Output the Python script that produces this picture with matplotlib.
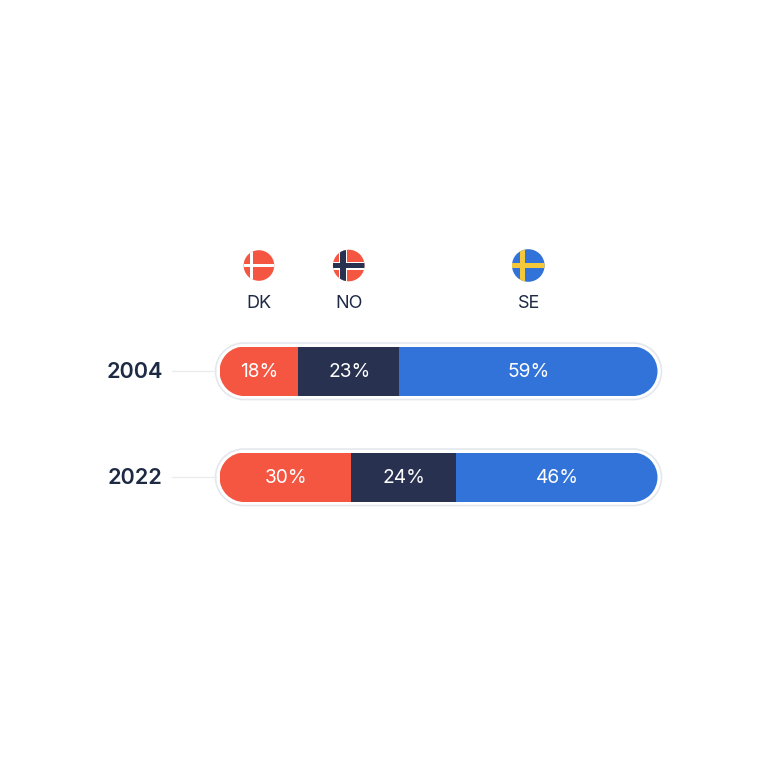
import matplotlib
matplotlib.use('Agg')
import matplotlib.pyplot as plt
from matplotlib.patches import Circle, PathPatch, Rectangle
from matplotlib.path import Path
from matplotlib.transforms import Affine2D

# --- data ---
years = ['2004', '2022']
countries = ['DK', 'NO', 'SE']
dk_share = [18, 30]
no_share = [23, 24]
se_share = [59, 46]
colors = ['#F45642', '#283250', '#3273DA']

TEXT = '#1E2A44'
RING = '#E4E8EC'
FONT = 'Inter'

plt.rcParams['font.family'] = [FONT, 'DejaVu Sans']

fig = plt.figure(figsize=(7.68, 7.68), dpi=100, facecolor='white')

# image pixels, y down
px = Affine2D().scale(1, -1).translate(0, 768)


def pill_path(x0, x1, cy, h):
    # true semicircle ends, FancyBboxPatch corners come out too square
    r = h / 2
    right_end = Path.arc(-90, 90).transformed(Affine2D().scale(r).translate(x1 - r, cy))
    left_end = Path.arc(90, 270).transformed(Affine2D().scale(r).translate(x0 + r, cy))
    verts = list(right_end.vertices) + list(left_end.vertices) + [right_end.vertices[0]]
    codes = list(right_end.codes) + [Path.LINETO] + list(left_end.codes[1:]) + [Path.CLOSEPOLY]
    return Path(verts, codes)


# bars live in an axes where x is percent
left, right = 219.5, 657.5
top, bottom = 324.0, 524.0
ax = fig.add_axes([left / 768, 1 - bottom / 768, (right - left) / 768, (bottom - top) / 768])
ax.set_xlim(0, 100)
ax.set_ylim(200, 0)
ax.axis('off')
ax.set_zorder(2)

row_y = [47.3, 153.3]
bar_h = 49.5

shares = [dk_share, no_share, se_share]
for r, y in enumerate(row_y):
    cy = top + y

    # outer ring and tick line
    fig.add_artist(PathPatch(pill_path(215.5, 661.5, cy, 56.5), fc='white', ec=RING, lw=1.2, transform=px, zorder=1))
    fig.add_artist(plt.Line2D([172, 215.5], [cy, cy], transform=px, color='#E9ECEF', lw=0.9, zorder=1))

    pill = PathPatch(pill_path(left, right, cy, bar_h), transform=px, fc='none', ec='none')
    fig.add_artist(pill)

    start = 0
    for c in range(3):
        val = shares[c][r]
        bars = ax.barh(y, val, left=start, height=bar_h, color=colors[c], lw=0, zorder=3)
        for b in bars:
            b.set_clip_path(pill)
        ax.text(start + val / 2 + 0.1, y + 0.8, f'{val}%', ha='center', va='center', color='white',
                fontsize=13.8, fontweight='regular', zorder=4)
        start += val

    fig.text(162.5 / 768, 1 - (cy + 0.5) / 768, years[r], ha='right', va='center', color=TEXT,
             fontsize=15.6, fontweight='semibold')

# flags sit over the middle of each 2004 segment
flag_y = 265.5
flag_r = [15.3, 15.8, 16.3]
disc_colors = [colors[0], colors[0], colors[2]]
cross_dx = [-7, -5.5, -5.5]
# (colour, half thickness), outer to inner
crosses = [[('white', 1.5)], [('white', 4.0), (colors[1], 2.9)], [('#F3C93B', 2.3)]]

start = 0
for c, name in enumerate(countries):
    val = shares[c][0]
    fx = left + (start + val / 2) * (right - left) / 100
    start += val

    fig.text((fx + 0.4) / 768, 1 - 303 / 768, name, ha='center', va='center', color=TEXT, fontsize=13)

    rad = flag_r[c]
    disc = Circle((fx, flag_y), rad, transform=px, fc=disc_colors[c], ec='none')
    fig.add_artist(disc)

    vx = fx + cross_dx[c]
    for col, half in crosses[c]:
        h = Rectangle((fx - rad, flag_y - half), 2 * rad, 2 * half, transform=px, fc=col, ec='none')
        v = Rectangle((vx - half, flag_y - rad), 2 * half, 2 * rad, transform=px, fc=col, ec='none')
        for p in (h, v):
            fig.add_artist(p)
            p.set_clip_path(disc)

fig.savefig('out.png', dpi=100, facecolor='white')
